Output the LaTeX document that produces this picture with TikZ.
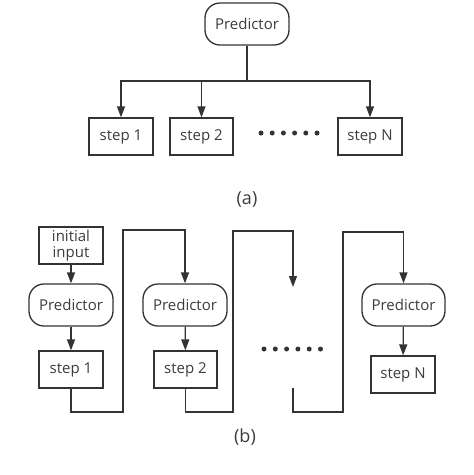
\documentclass[tikz,border=0pt]{standalone}
\usepackage{fontspec}
\setmainfont{Open Sans}
\usetikzlibrary{arrows.meta}
\definecolor{ink}{HTML}{333333}
\definecolor{txt}{HTML}{3C3C3C}
\begin{document}
\begin{tikzpicture}[x=1pt,y=-1pt,
  every node/.style={inner sep=0pt, text=txt, font=\fontsize{15}{16}\selectfont},
  pred/.style={draw=ink, line width=1.3pt, rounded corners=15pt, minimum width=84pt, minimum height=42pt},
  stepbox/.style={draw=ink, line width=1.3pt, minimum width=64pt, minimum height=37pt},
  wire/.style={draw=ink, line width=1.3pt},
  arr/.style={wire, -{Triangle[length=11pt,width=8pt]}},
  dot/.style={fill=ink, circle, minimum size=5pt},
  lab/.style={font=\fontsize{18}{19}\selectfont}]
\useasboundingbox (0,0) rectangle (474,475);
% (a)
\node[pred] (p0) at (247,24) {Predictor};
\node[stepbox] (a1) at (121,136.5) {step 1};
\node[stepbox, minimum width=63pt] (a2) at (201.5,136.5) {step 2};
\node[stepbox] (aN) at (370,136.5) {step N};
\coordinate (br) at (247,81);
\draw[wire] (p0) -- (br);
\draw[arr] (br) -| (a1);
\draw[arr] (br) -| (a2);
\draw[arr] (br) -| (aN);
\foreach \i in {0,...,5} \node[dot] (ad\i) at (261+11.2*\i,133) {};
\node[lab] (la) at (247,199) {(a)};
% (b)
\node[stepbox, align=center, font=\fontsize{15}{16}\selectfont] (in) at (71,245.5) {initial\\input};
\node[pred] (b1p) at (71,305) {Predictor};
\node[stepbox] (b1s) at (71,369.5) {step 1};
\node[pred] (b2p) at (185,305) {Predictor};
\node[stepbox, minimum width=63pt] (b2s) at (185.5,369.5) {step 2};
\node[pred, minimum width=83pt] (bNp) at (403.5,305) {Predictor};
\node[stepbox] (bNs) at (403,374.5) {step N};
\draw[arr] (in) -- (b1p);
\draw[arr] (b1p) -- (b1s);
\draw[arr] (b2p) -- (b2s);
\draw[arr] (bNp) -- (bNs);
\coordinate (m1) at (123,230);
\coordinate (m2) at (233,231);
\coordinate (m3) at (343,232);
\coordinate (g1) at (293,287);
\coordinate (g2) at (293,388);
\draw[arr] (b1s.south) |- (123,412) -- (m1) -| (b2p.north);
\draw[arr] (b2s.south) |- (233,412) -- (m2) -| (g1);
\draw[arr] (g2) |- (343,412) -- (m3) -| (bNp.north);
\foreach \i in {0,...,5} \node[dot] (bd\i) at (264+11.3*\i,349) {};
\node[lab] (lb) at (245,437) {(b)};
\end{tikzpicture}
\end{document}
